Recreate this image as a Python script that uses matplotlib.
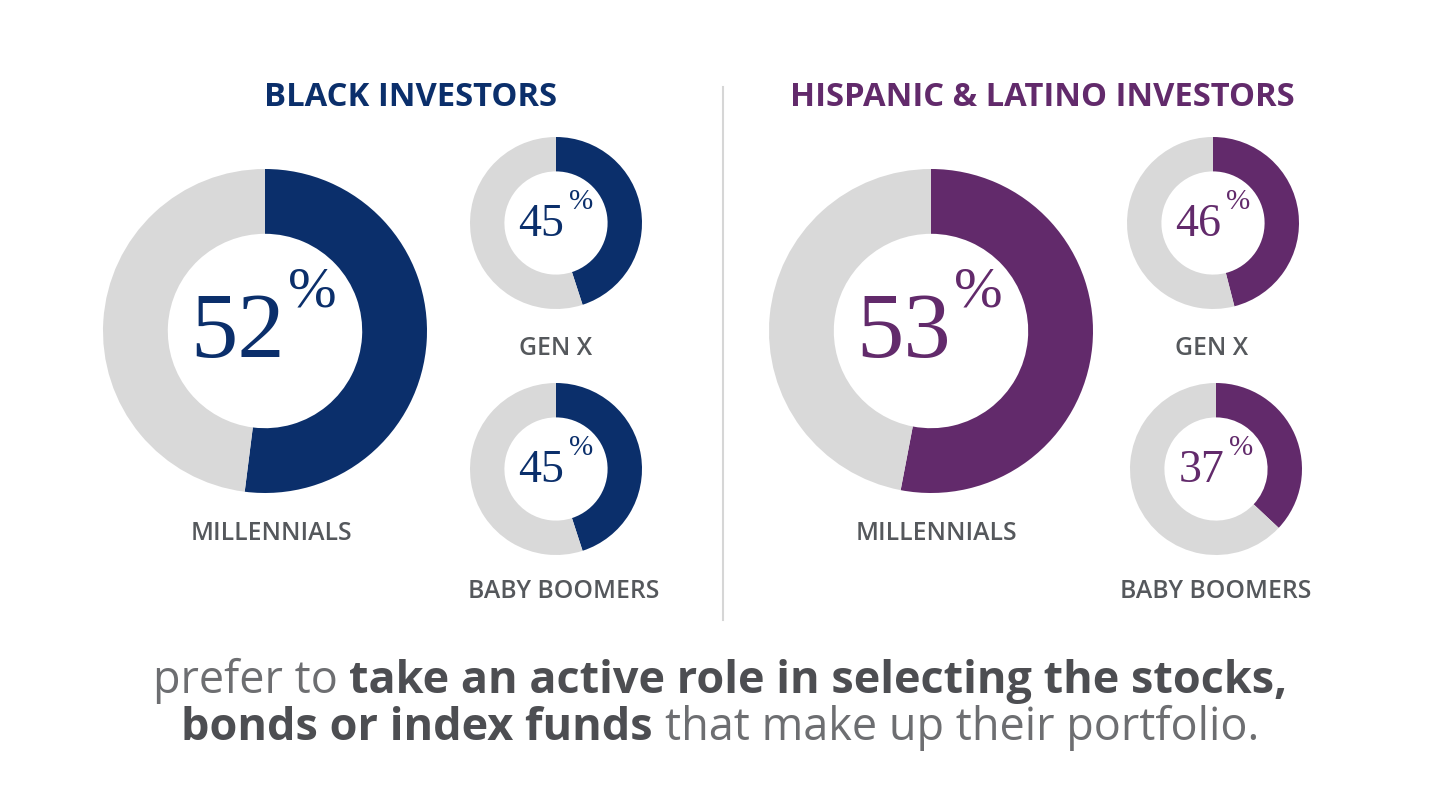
import numpy as np
import matplotlib.pyplot as plt

W, H = 1430, 809

# data
groups = ['BLACK INVESTORS', 'HISPANIC & LATINO INVESTORS']
group_colors = ['#0b2f6b', '#622a6b']
generations = ['MILLENNIALS', 'GEN X', 'BABY BOOMERS']
values = [[52, 45, 45], [53, 46, 37]]
ring_gray = '#d9d9d9'
label_gray = '#55585c'

# layout (pixel coords from top-left)
title_pos = [(411, 97), (1042, 97)]
donut_centers = [[(265, 331), (556, 223), (556, 469)],
                 [(931, 331), (1213, 223), (1216, 469)]]
donut_radius = [162, 86, 86]
label_pos = [[(271, 533), (556, 348), (564, 592)],
             [(936, 533), (1212, 348), (1216, 592)]]
num_size = [68, 33, 33]
pct_size = [42, 21, 21]

fig = plt.figure(figsize=(W / 100, H / 100), dpi=100, facecolor='white')
ax = fig.add_axes([0, 0, 1, 1])


def Y(y):
    return H - y


for g in range(2):
    col = group_colors[g]
    ax.text(title_pos[g][0], Y(title_pos[g][1]), groups[g], color=col,
            fontsize=23.6, fontweight='bold', family='Open Sans', ha='center', va='center')
    for k in range(3):
        cx, cy = donut_centers[g][k]
        r = donut_radius[k]
        v = values[g][k]
        ax.pie([v, 100 - v], colors=[col, ring_gray], startangle=90, counterclock=False,
               center=(cx, Y(cy)), radius=r, wedgeprops=dict(width=r * 0.4, linewidth=0))
        # number + superscript percent
        ax.text(cx - r * 0.17, Y(cy) - r * 0.02, str(v), color=col, fontsize=num_size[k],
                family='Liberation Serif', ha='center', va='center')
        ax.text(cx + r * 0.29, Y(cy) + r * 0.24, '%', color=col, fontsize=pct_size[k],
                family='Liberation Serif', ha='center', va='center')
        lx, ly = label_pos[g][k]
        ax.text(lx, Y(ly), generations[k], color=label_gray, fontsize=17.8, fontweight=600,
                family='Open Sans', ha='center', va='center')

# divider
ax.plot([723, 723], [Y(87), Y(620)], color='#d6d6d6', lw=1.5)

ax.set_xlim(0, W)
ax.set_ylim(0, H)
ax.set_aspect('auto')
ax.axis('off')

# bottom sentence with mixed weights
fig.canvas.draw()
rend = fig.canvas.get_renderer()
fs = 32.4
reg_col, bold_col = '#6d6e71', '#4d4e52'
lines = [[('prefer to', 'normal'), ('take an active role in selecting the stocks,', 'bold')],
         [('bonds or index funds', 'bold'), ('that make up their portfolio.', 'normal')]]
baselines = [693, 740]


def width_of(s, weight):
    t = ax.text(0, 0, s, fontsize=fs, fontweight=weight, family='Open Sans')
    w = t.get_window_extent(rend).width
    t.remove()
    return w


space = width_of('x x', 'normal') - width_of('xx', 'normal')
for parts, base in zip(lines, baselines):
    widths = [width_of(s, wt) for s, wt in parts]
    total = sum(widths) + space * (len(parts) - 1)
    x = 720 - total / 2
    for (s, wt), w in zip(parts, widths):
        ax.text(x, Y(base), s, fontsize=fs, fontweight=wt, family='Open Sans',
                color=bold_col if wt == 'bold' else reg_col, ha='left', va='baseline')
        x += w + space

fig.savefig('out.png', dpi=100, facecolor='white')
